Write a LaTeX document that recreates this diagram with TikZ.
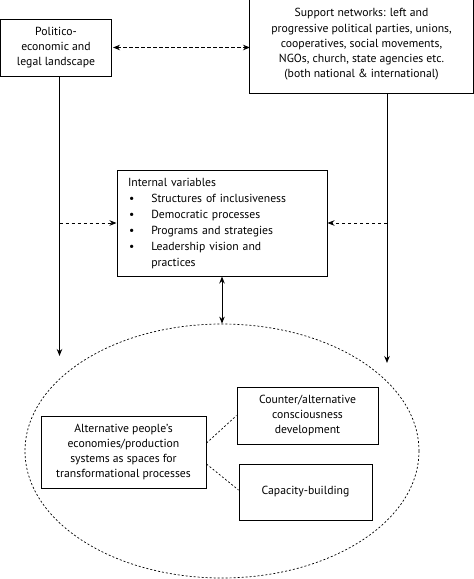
\documentclass[tikz,border=0pt]{standalone}
\usepackage{fontspec}
\setmainfont{PT Sans}
\usetikzlibrary{arrows.meta,shapes.geometric}
\begin{document}
\begin{tikzpicture}[x=1pt,y=-1pt,line width=1pt,
   box/.style={draw,align=center,inner sep=0pt,font=\fontsize{11.7}{15.2}\selectfont},
   dotted arrow/.style={dash pattern=on 3.5pt off 2.5pt,line width=0.8pt},
   tip/.style={-{Stealth[length=7pt,width=5.5pt]}},
   tips/.style={{Stealth[length=7pt,width=5.5pt]}-{Stealth[length=7pt,width=5.5pt]}}]
   \useasboundingbox (0,0) rectangle (474,579);
    \node[box,minimum width=111,minimum height=57] (politico) at (56,47.5)
       {Politico-\\economic and\\legal landscape};
    \node[box,minimum width=224,minimum height=98] (network) at (361.5,44.5)
       {Support networks: left and\\progressive political parties, unions,\\cooperatives, social movements,\\NGOs, church, state agencies etc.\\(both national \& international)};
    \node[box,align=left,text width=210,minimum height=106] (internal) at (222,223)
       {\renewcommand{\arraystretch}{1.05}%
        \begin{tabular}{@{\hspace{12pt}}l@{\hspace{17pt}}l@{}}
        \multicolumn{2}{@{\hspace{11pt}}l@{}}{Internal variables}\\
        \textbullet & Structures of inclusiveness\\
        \textbullet & Democratic processes\\
        \textbullet & Programs and strategies\\
        \textbullet & Leadership vision and\\
                    & practices
        \end{tabular}};
    \node[draw,ellipse,dash pattern=on 2pt off 2pt,line width=0.7pt,
          minimum width=394,minimum height=254] (space) at (222,451) {};
    \node[box,minimum width=165,minimum height=72] (alt) at (123.5,452)
       {Alternative people's\\economies/production\\systems as spaces for\\transformational processes};
    \node[box,minimum width=141,minimum height=57] (counter) at (307.5,415.5)
       {Counter/alternative\\consciousness\\development};
    \node[box,minimum width=133,minimum height=56] (capacity) at (305.5,492)
       {Capacity-building};
    \coordinate (polend) at (59.5,356);
    \coordinate (netend) at (387,363);
    \draw[dotted arrow,tips]
       ([xshift=1pt]politico.east) -- ([xshift=1pt]politico.east -| network.west);
    \draw[tip] (politico.south -| polend) -- (polend);
    \draw[tip] (network.south -| netend) -- (netend);
    \draw[dotted arrow,tip] (polend |- internal.west) -- (internal.west);
    \draw[dotted arrow,tip] (netend |- internal.east) -- (internal.east);
    \draw[tips] (internal.south) -- (space.north);
    \draw[dash pattern=on 2pt off 2pt,line width=0.7pt] ([yshift=9pt]alt.east) -- (counter.west);
    \draw[dash pattern=on 2pt off 2pt,line width=0.7pt] ([yshift=-12pt]alt.east) -- ([yshift=2pt]capacity.west);
\end{tikzpicture}
\end{document}
